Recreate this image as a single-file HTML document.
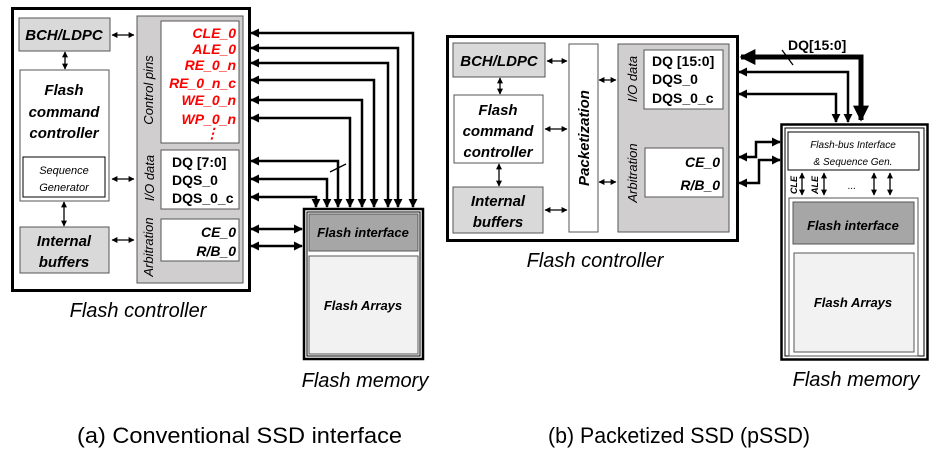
<!DOCTYPE html>
<html><head><style>
body{margin:0;background:#fff;width:944px;height:454px;overflow:hidden}
svg{display:block}
text{font-family:"Liberation Sans",sans-serif}
.b{font-weight:bold;font-style:italic}
</style></head><body>
<svg width="944" height="454" viewBox="0 0 944 454" xmlns="http://www.w3.org/2000/svg">
<defs>
<marker id="a" viewBox="0 0 10 10" refX="9" refY="5" markerUnits="userSpaceOnUse" markerWidth="9" markerHeight="9" orient="auto-start-reverse"><path d="M0,0L10,5L0,10z" fill="#000"/></marker>
<marker id="s" viewBox="0 0 10 10" refX="9" refY="5" markerUnits="userSpaceOnUse" markerWidth="16" markerHeight="16" orient="auto-start-reverse"><path d="M0,0L10,5L0,10z" fill="#000"/></marker>
<marker id="t" viewBox="0 0 10 10" refX="9" refY="5" markerUnits="userSpaceOnUse" markerWidth="6" markerHeight="6" orient="auto-start-reverse"><path d="M0,0L10,5L0,10z" fill="#000"/></marker>
</defs>
<g stroke="#000" fill="none">
<!-- LEFT -->
<rect x="12.5" y="8.5" width="237" height="282" stroke-width="3" fill="#fff"/>
<rect x="19" y="18" width="91" height="33" fill="#d9d9d9" stroke="#555"/>
<rect x="20" y="70" width="89" height="131" fill="#fff" stroke="#555"/>
<rect x="23" y="157" width="82" height="40" fill="#fff" stroke="#000"/>
<rect x="20" y="227" width="89" height="46" fill="#d9d9d9" stroke="#555"/>
<rect x="137" y="16" width="106" height="267" fill="#d0cece" stroke="#555"/>
<rect x="161" y="21" width="78" height="122" fill="#fff" stroke="#555"/>
<rect x="161" y="150" width="78" height="59" fill="#fff" stroke="#555"/>
<rect x="161" y="219" width="78" height="42" fill="#fff" stroke="#555"/>
<g stroke-width="1.3">
<line x1="112" y1="35" x2="134" y2="35" marker-start="url(#t)" marker-end="url(#t)"/>
<line x1="65" y1="52" x2="65" y2="69" marker-start="url(#t)" marker-end="url(#t)"/>
<line x1="112" y1="179" x2="134" y2="179" marker-start="url(#t)" marker-end="url(#t)"/>
<line x1="64" y1="202" x2="64" y2="226" marker-start="url(#t)" marker-end="url(#t)"/>
<line x1="112" y1="240" x2="134" y2="240" marker-start="url(#t)" marker-end="url(#t)"/>
</g>
<g stroke-width="2.5">
<polyline points="251,33 413,33 413,207" marker-start="url(#a)" marker-end="url(#a)"/>
<polyline points="251,48 398,48 398,207" marker-start="url(#a)" marker-end="url(#a)"/>
<polyline points="251,63 388,63 388,207" marker-start="url(#a)" marker-end="url(#a)"/>
<polyline points="251,80 374,80 374,207" marker-start="url(#a)" marker-end="url(#a)"/>
<polyline points="251,100 362,100 362,207" marker-start="url(#a)" marker-end="url(#a)"/>
<polyline points="251,118 350,118 350,207" marker-start="url(#a)" marker-end="url(#a)"/>
<polyline points="251,161 338,161 338,207" marker-start="url(#a)" marker-end="url(#a)"/>
<polyline points="251,179 327,179 327,207" marker-start="url(#a)" marker-end="url(#a)"/>
<polyline points="251,197 316,197 316,207" marker-start="url(#a)" marker-end="url(#a)"/>
<line x1="251" y1="229" x2="302" y2="229" marker-start="url(#a)" marker-end="url(#a)"/>
<line x1="251" y1="246" x2="302" y2="246" marker-start="url(#a)" marker-end="url(#a)"/>
</g>
<line x1="330" y1="172" x2="346" y2="164" stroke-width="1.3"/>
<rect x="304" y="209" width="119" height="150" stroke-width="2.5" fill="#fff"/>
<rect x="307" y="212" width="113" height="144" stroke-width="1"/>
<rect x="309" y="214" width="109" height="37" fill="#a6a6a6" stroke="#555"/>
<rect x="309" y="256" width="109" height="98" fill="#f2f2f2" stroke="#555"/>
<!-- RIGHT -->
<rect x="447.5" y="36.5" width="290" height="204" stroke-width="3" fill="#fff"/>
<rect x="453" y="43" width="92" height="34" fill="#d9d9d9" stroke="#555"/>
<rect x="454" y="95" width="89" height="68" fill="#fff" stroke="#555"/>
<rect x="453" y="187" width="90" height="46" fill="#d9d9d9" stroke="#555"/>
<rect x="569" y="44" width="29" height="188" fill="#fff" stroke="#555"/>
<rect x="618" y="44" width="111" height="188" fill="#d0cece" stroke="#555"/>
<rect x="644" y="50" width="79" height="59" fill="#fff" stroke="#555"/>
<rect x="645" y="148" width="78" height="49" fill="#fff" stroke="#555"/>
<g stroke-width="1.3">
<line x1="547" y1="61" x2="567" y2="61" marker-start="url(#t)" marker-end="url(#t)"/>
<line x1="500" y1="78" x2="500" y2="94" marker-start="url(#t)" marker-end="url(#t)"/>
<line x1="545" y1="129" x2="567" y2="129" marker-start="url(#t)" marker-end="url(#t)"/>
<line x1="499" y1="164" x2="499" y2="186" marker-start="url(#t)" marker-end="url(#t)"/>
<line x1="545" y1="210" x2="567" y2="210" marker-start="url(#t)" marker-end="url(#t)"/>
<line x1="599" y1="80" x2="616" y2="80" marker-start="url(#t)" marker-end="url(#t)"/>
<line x1="599" y1="182" x2="616" y2="182" marker-start="url(#t)" marker-end="url(#t)"/>
</g>
<polyline points="741,57 861,57 861,120" stroke-width="5" marker-start="url(#s)" marker-end="url(#s)"/>
<line x1="782" y1="50" x2="793" y2="65" stroke-width="1.3"/>
<g stroke-width="2.5">
<polyline points="739,72 848,72 848,122" marker-start="url(#a)" marker-end="url(#a)"/>
<polyline points="739,94 836,94 836,122" marker-start="url(#a)" marker-end="url(#a)"/>
<polyline points="739,157 756,157 756,142 780,142" marker-start="url(#a)" marker-end="url(#a)"/>
<polyline points="739,183 759,183 759,160 780,160" marker-start="url(#a)" marker-end="url(#a)"/>
</g>
<rect x="781.5" y="124.5" width="146" height="235" stroke-width="2.5" fill="#fff"/>
<rect x="785" y="128" width="139" height="228" stroke-width="1"/>
<rect x="788" y="132" width="131" height="38" fill="#fff" stroke="#000"/>
<g stroke-width="1.3">
<line x1="802" y1="173" x2="802" y2="195" marker-start="url(#t)" marker-end="url(#t)"/>
<line x1="824" y1="173" x2="824" y2="195" marker-start="url(#t)" marker-end="url(#t)"/>
<line x1="874" y1="173" x2="874" y2="195" marker-start="url(#t)" marker-end="url(#t)"/>
<line x1="890" y1="173" x2="890" y2="195" marker-start="url(#t)" marker-end="url(#t)"/>
</g>
<rect x="789" y="198" width="129" height="158" stroke="#555"/>
<rect x="793" y="202" width="121" height="42" fill="#a6a6a6" stroke="#555"/>
<rect x="794" y="253" width="120" height="99" fill="#f2f2f2" stroke="#555"/>
</g>
<!-- text left -->
<g class="b" font-size="15" text-anchor="middle" fill="#000">
<text x="64" y="40">BCH/LDPC</text>
<text x="64" y="95">Flash</text>
<text x="64" y="117">command</text>
<text x="64" y="138">controller</text>
<text x="64" y="246">Internal</text>
<text x="64" y="267">buffers</text>
</g>
<g font-style="italic" font-size="11" text-anchor="middle"><text x="64" y="174">Sequence</text><text x="64" y="191">Generator</text></g>
<g class="b" font-size="14" text-anchor="end" fill="#f00">
<text x="236" y="38">CLE_0</text><text x="236" y="54">ALE_0</text><text x="236" y="70">RE_0_n</text>
<text x="236" y="88">RE_0_n_c</text><text x="236" y="105">WE_0_n</text><text x="236" y="124">WP_0_n</text>
<text x="219" y="138">⋮</text>
</g>
<g font-weight="bold" font-size="14"><text x="172" y="167">DQ [7:0]</text><text x="172" y="185">DQS_0</text><text x="172" y="203">DQS_0_c</text></g>
<g class="b" font-size="14" text-anchor="end"><text x="236" y="237">CE_0</text><text x="236" y="256">R/B_0</text></g>
<g font-style="italic" font-size="13" text-anchor="middle">
<text transform="translate(153,90) rotate(-90)">Control pins</text>
<text transform="translate(154,178) rotate(-90)">I/O data</text>
<text transform="translate(153,247) rotate(-90)">Arbitration</text>
</g>
<g class="b" font-size="13" text-anchor="middle"><text x="363" y="237">Flash interface</text><text x="363" y="310">Flash Arrays</text></g>
<g font-style="italic" font-size="20" text-anchor="middle"><text x="138" y="317">Flash controller</text><text x="365" y="387">Flash memory</text>
<text x="595" y="267">Flash controller</text><text x="856" y="386">Flash memory</text></g>
<!-- text right -->
<g class="b" font-size="15" text-anchor="middle">
<text x="499" y="66">BCH/LDPC</text>
<text x="498" y="115">Flash</text><text x="498" y="136">command</text><text x="498" y="157">controller</text>
<text x="498" y="206">Internal</text><text x="498" y="227">buffers</text>
<text transform="translate(589,138) rotate(-90)" font-size="15">Packetization</text>
</g>
<g font-weight="bold" font-size="14"><text x="652" y="66">DQ [15:0]</text><text x="652" y="84">DQS_0</text><text x="652" y="103">DQS_0_c</text>
<text x="788" y="50">DQ[15:0]</text></g>
<g class="b" font-size="14" text-anchor="end"><text x="720" y="167">CE_0</text><text x="720" y="190">R/B_0</text></g>
<g font-style="italic" font-size="13" text-anchor="middle">
<text transform="translate(637,79) rotate(-90)">I/O data</text>
<text transform="translate(637,173) rotate(-90)">Arbitration</text>
</g>
<g font-style="italic" font-size="10" text-anchor="middle"><text x="853" y="148">Flash-bus Interface</text><text x="853" y="165">&amp; Sequence Gen.</text>
<text x="852" y="189">...</text></g>
<g class="b" font-size="9" text-anchor="middle"><text transform="translate(797,185) rotate(-90)">CLE</text><text transform="translate(818,185) rotate(-90)">ALE</text></g>
<g class="b" font-size="13" text-anchor="middle"><text x="853" y="230">Flash interface</text><text x="853" y="307">Flash Arrays</text></g>
<g font-size="22"><text x="77" y="443" textLength="325" lengthAdjust="spacingAndGlyphs">(a)  Conventional SSD interface</text><text x="548" y="443" textLength="262" lengthAdjust="spacingAndGlyphs">(b) Packetized SSD (pSSD)</text></g>
</svg>
</body></html>
